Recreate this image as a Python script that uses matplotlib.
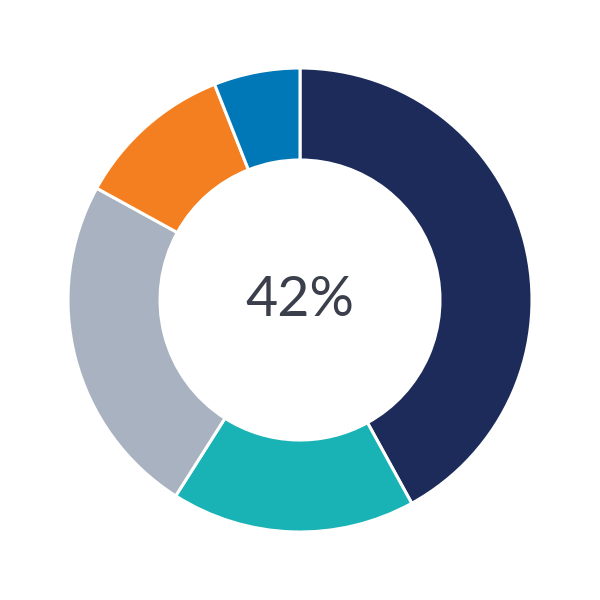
import matplotlib.pyplot as plt

# slices, clockwise from 12 o'clock
labels = ['Navy', 'Teal', 'Gray', 'Orange', 'Blue']
values = [42, 17, 24, 11, 6]
colors = ['#1c2b5a', '#1ab3b5', '#a8b2c0', '#f47f20', '#0077b6']
center_text = '42%'

fig = plt.figure(figsize=(6, 6), dpi=100)
ax = fig.add_axes([0, 0, 1, 1])

ax.pie(values, colors=colors, startangle=90, counterclock=False,
       radius=232 / 300, center=(0, 0),
       wedgeprops={'width': 92 / 300, 'edgecolor': 'white', 'linewidth': 2.2})

ax.text(0, 0, center_text, ha='center', va='center', fontsize=40,
        color='#3a3f4b', family='Lato')

ax.set_xlim(-1, 1)
ax.set_ylim(-1, 1)
ax.set_aspect('equal')
ax.axis('off')

plt.savefig('out.png', dpi=100, facecolor='white')
